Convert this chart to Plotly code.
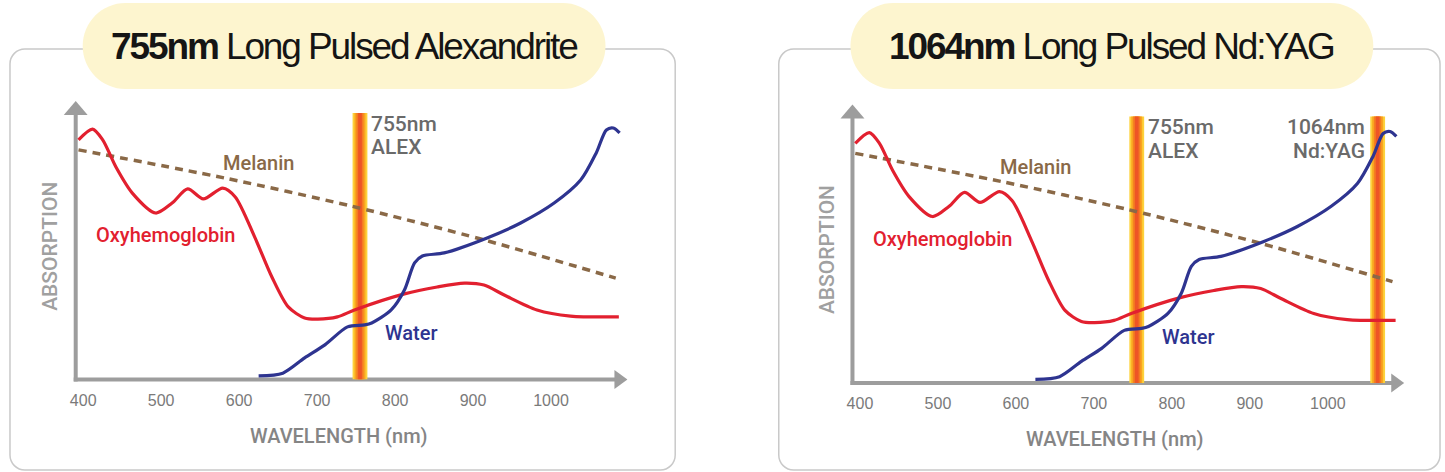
import plotly.graph_objects as go

W, H = 1445, 472

# ---------------- data ----------------
tick_vals = [400, 500, 600, 700, 800, 900, 1000]

melanin_nm = [394, 582, 744, 914, 1083]
melanin_abs = [82.9, 72.7, 62.6, 50.4, 36.6]

oxy_nm = [394, 412, 425, 442, 463, 493, 514, 534, 554, 579, 595, 620, 642, 663,
          684, 701, 726, 748, 812, 854, 889, 914, 940, 982, 1025, 1087]
oxy_abs = [86.5, 90.4, 86.5, 76.7, 67.3, 60.1, 63.7, 68.8, 65.2, 69.1, 65.9, 51.4, 37.0, 26.2,
           22.2, 21.8, 22.6, 25.1, 30.9, 33.4, 34.8, 34.1, 30.5, 25.1, 22.9, 22.6]

water_nm = [625, 656, 684, 710, 739, 761, 770, 795, 812, 825, 835, 863, 918, 961,
            1004, 1038, 1058, 1071, 1080, 1088]
water_abs = [1.3, 2.3, 7.8, 12.5, 19.0, 19.7, 20.4, 25.1, 32.3, 42.1, 44.6, 45.7, 51.1, 56.5,
             63.7, 72.0, 81.8, 90.1, 90.8, 89.0]

panel_titles_bold = ["755nm", "1064nm"]
panel_titles_rest = [" Long Pulsed Alexandrite", " Long Pulsed Nd:YAG"]
panel_lasers = [[755], [755, 1064]]
laser_labels = {755: ("755nm", "ALEX"), 1064: ("1064nm", "Nd:YAG")}
laser_top = 96.2

# ---------------- styling / geometry ----------------
X_RANGE = [390.4, 1096.7]
Y_RANGE = [0, 100]
SANS = "Liberation Sans, Arial, Helvetica, sans-serif"
MED = "Roboto, Liberation Sans, Arial, sans-serif"
C_RED = "#e2202f"
C_BLUE = "#2e3490"
C_BROWN = "#8a6947"
C_AXIS = "#9d9d9d"


def P(x, y):
    return f"{x / W:.5f},{1 - y / H:.5f}"


def rrect(x0, y0, x1, y1, r):
    k = 0.5523 * r
    return (f"M {P(x0 + r, y0)} L {P(x1 - r, y0)} "
            f"C {P(x1 - r + k, y0)} {P(x1, y0 + r - k)} {P(x1, y0 + r)} "
            f"L {P(x1, y1 - r)} "
            f"C {P(x1, y1 - r + k)} {P(x1 - r + k, y1)} {P(x1 - r, y1)} "
            f"L {P(x0 + r, y1)} "
            f"C {P(x0 + r - k, y1)} {P(x0, y1 - r + k)} {P(x0, y1 - r)} "
            f"L {P(x0, y0 + r)} "
            f"C {P(x0, y0 + r - k)} {P(x0 + r - k, y0)} {P(x0 + r, y0)} Z")


panels = [
    dict(dx=0, dy=0, box=(4, 49, 672, 470), pill=(77, 3, 602, 89)),
    dict(dx=780, dy=3.5, box=(776, 49, 1440, 470), pill=(848, 3, 1373, 89)),
]

fig = go.Figure()
shapes = []
annotations = []
layout_axes = {}

for i, pn in enumerate(panels):
    dx, dy = pn["dx"], pn["dy"]
    xa = "x" if i == 0 else "x2"
    ya = "y" if i == 0 else "y2"
    xkey = "xaxis" if i == 0 else "xaxis2"
    ykey = "yaxis" if i == 0 else "yaxis2"
    ax0, ax1 = 70 + dx, 623 + dx
    ay0, ay1 = 379.5 + dy, 102.5 + dy

    layout_axes[xkey] = dict(
        domain=[ax0 / W, ax1 / W], range=X_RANGE, anchor=ya,
        tickvals=tick_vals, ticks="", showgrid=False, zeroline=False, showline=False,
        tickfont=dict(family=SANS, size=16, color="#7a7a7a"), ticklabelstandoff=9,
        fixedrange=True)
    layout_axes[ykey] = dict(
        domain=[1 - ay0 / H, 1 - ay1 / H], range=Y_RANGE, anchor=xa,
        showticklabels=False, ticks="", showgrid=False, zeroline=False, showline=False,
        fixedrange=True)

    # panel box and title pill
    bx0, by0, bx1, by1 = pn["box"]
    shapes.append(dict(type="path", path=rrect(bx0, by0, bx1, by1, 15), xref="paper", yref="paper",
                       fillcolor="white", line=dict(color="#c9c9c9", width=1.5), layer="below"))
    px0, py0, px1, py1 = pn["pill"]
    shapes.append(dict(type="path", path=rrect(px0, py0, px1, py1, (py1 - py0) / 2),
                       xref="paper", yref="paper", fillcolor="#fdf5cf",
                       line=dict(width=0), layer="below"))
    annotations.append(dict(
        text=(f'<span style="letter-spacing:-2.1px"><b>{panel_titles_bold[i]}</b>'
              f'{panel_titles_rest[i]}</span>'),
        x=(px0 + px1) / 2 / W, y=1 - 46.5 / H, xref="paper", yref="paper",
        xanchor="center", yanchor="middle", showarrow=False,
        font=dict(family=SANS, size=37, color="#151515")))

    # laser bars
    for lam in panel_lasers[i]:
        for half, col in [(9.5, "#fdd23c"), (7.0, "#f9a51f"), (4.6, "#f47b22"), (2.4, "#ee5526")]:
            shapes.append(dict(type="rect", xref=xa, yref=ya, x0=lam - half, x1=lam + half,
                               y0=Y_RANGE[0], y1=laser_top, fillcolor=col,
                               line=dict(width=0), layer="below"))
        l1, l2 = laser_labels[lam]
        if lam == 755:
            anchor, shift = "left", 9
        else:
            anchor, shift = "right", -11
        for txt, yy in [(l1, 123.5), (l2, 147)]:
            annotations.append(dict(text=txt, x=lam, xref=xa, y=1 - (yy + dy) / H, yref="paper",
                                    xanchor=anchor, yanchor="middle", xshift=shift, showarrow=False,
                                    font=dict(family=MED, size=21, color="#6a6a6a", weight=500)))

    # axes with arrow heads
    shapes.append(dict(type="line", xref="paper", yref="paper",
                       x0=(70 + dx) / W, x1=(70 + dx) / W, y0=1 - (381.5 + dy) / H, y1=1 - (112 + dy) / H,
                       line=dict(color=C_AXIS, width=4), layer="below"))
    shapes.append(dict(type="path", xref="paper", yref="paper", fillcolor=C_AXIS, line=dict(width=0),
                       path=f"M {P(70 + dx, 101 + dy)} L {P(58 + dx, 115 + dy)} L {P(82 + dx, 115 + dy)} Z",
                       layer="below"))
    shapes.append(dict(type="line", xref="paper", yref="paper",
                       x0=(68 + dx) / W, x1=(614 + dx) / W, y0=1 - (379.5 + dy) / H, y1=1 - (379.5 + dy) / H,
                       line=dict(color=C_AXIS, width=4), layer="below"))
    shapes.append(dict(type="path", xref="paper", yref="paper", fillcolor=C_AXIS, line=dict(width=0),
                       path=f"M {P(624 + dx, 379.5 + dy)} L {P(611 + dx, 370 + dy)} L {P(611 + dx, 389 + dy)} Z",
                       layer="below"))

    # axis titles
    annotations.append(dict(text="ABSORPTION", x=(44 + dx) / W, y=1 - (246 + dy) / H,
                            xref="paper", yref="paper", textangle=-90, showarrow=False,
                            xanchor="center", yanchor="middle",
                            font=dict(family=MED, size=21, color="#a0a0a0", weight=500)))
    annotations.append(dict(text="WAVELENGTH (nm)", x=(334 + dx) / W, y=1 - (435.5 + dy) / H,
                            xref="paper", yref="paper", showarrow=False,
                            xanchor="center", yanchor="middle",
                            font=dict(family=MED, size=20, color="#858585", weight=500)))

    # curve labels
    for txt, cx, cy, col in [("Melanin", 254, 163, C_BROWN), ("Oxyhemoglobin", 160, 235, C_RED),
                             ("Water", 407, 333, C_BLUE)]:
        annotations.append(dict(text=txt, x=(cx + dx) / W, y=1 - (cy + dy) / H, xref="paper", yref="paper",
                                showarrow=False, xanchor="center", yanchor="middle",
                                font=dict(family=MED, size=20, color=col, weight=500)))

    # curves
    fig.add_trace(go.Scatter(x=melanin_nm, y=melanin_abs, xaxis=xa, yaxis=ya, mode="lines",
                             line=dict(color=C_BROWN, width=3.5, dash="8px,6px", shape="spline", smoothing=0.8),
                             hoverinfo="skip", showlegend=False))
    fig.add_trace(go.Scatter(x=oxy_nm, y=oxy_abs, xaxis=xa, yaxis=ya, mode="lines",
                             line=dict(color=C_RED, width=3.2, shape="spline", smoothing=0.8),
                             hoverinfo="skip", showlegend=False))
    fig.add_trace(go.Scatter(x=water_nm, y=water_abs, xaxis=xa, yaxis=ya, mode="lines",
                             line=dict(color=C_BLUE, width=3.2, shape="spline", smoothing=0.8),
                             hoverinfo="skip", showlegend=False))

fig.update_layout(
    width=W, height=H, margin=dict(l=0, r=0, t=0, b=0),
    paper_bgcolor="white", plot_bgcolor="rgba(0,0,0,0)",
    shapes=shapes, annotations=annotations, **layout_axes,
)

fig.write_html("out.html", config={"displayModeBar": False})
